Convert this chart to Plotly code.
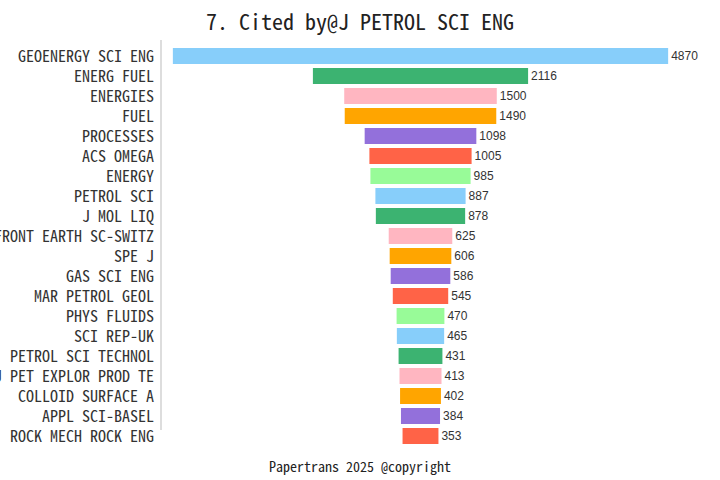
import plotly.graph_objects as go

journals = ["GEOENERGY SCI ENG", "ENERG FUEL", "ENERGIES", "FUEL", "PROCESSES",
            "ACS OMEGA", "ENERGY", "PETROL SCI", "J MOL LIQ", "FRONT EARTH SC-SWITZ",
            "SPE J", "GAS SCI ENG", "MAR PETROL GEOL", "PHYS FLUIDS", "SCI REP-UK",
            "PETROL SCI TECHNOL", "J PET EXPLOR PROD TE", "COLLOID SURFACE A",
            "APPL SCI-BASEL", "ROCK MECH ROCK ENG"]
counts = [4870, 2116, 1500, 1490, 1098, 1005, 985, 887, 878, 625,
          606, 586, 545, 470, 465, 431, 413, 402, 384, 353]
palette = ["#87CEFA", "#3CB371", "#FFB6C1", "#FFA500", "#9370DB", "#FF6347", "#98FB98"]

colors = [palette[i % len(palette)] for i in range(len(counts))]
bases = [-c / 2 for c in counts]

MONO = "Noto Sans Mono CJK SC, Liberation Mono, DejaVu Sans Mono, monospace"

fig = go.Figure(go.Bar(
    y=journals, x=counts, base=bases, orientation="h",
    marker=dict(color=colors, line=dict(width=0)),
    text=[str(c) for c in counts], textposition="outside",
    textfont=dict(family="Liberation Sans, Arial, sans-serif", size=12, color="#333333"),
    cliponaxis=False, hoverinfo="skip",
))

W, H = 720, 480
L, R, T, B = 161, 40, 46, 34
half = (420.5 - L) / 0.1017

fig.update_layout(
    width=W, height=H,
    margin=dict(l=L, r=R, t=T, b=B, autoexpand=False),
    plot_bgcolor="white", paper_bgcolor="white",
    bargap=0.2, showlegend=False,
    title=dict(text="7. Cited by@J PETROL SCI ENG", x=0.5, xanchor="center",
               y=1 - 22 / H, yanchor="middle", yref="container",
               font=dict(family=MONO, size=22, color="#222222")),
    xaxis=dict(range=[-half, half], visible=False, fixedrange=True),
    yaxis=dict(autorange="reversed", showline=False, showgrid=False, zeroline=False,
               ticks="", ticklabelstandoff=6, automargin=False, fixedrange=True,
               tickfont=dict(family=MONO, size=16, color="#333333")),
    annotations=[dict(text="Papertrans 2025 @copyright", xref="paper", yref="paper",
                      x=(360 - L) / (W - L - R), y=(H - B - 466) / (H - T - B),
                      xanchor="center", yanchor="middle", showarrow=False,
                      font=dict(family=MONO, size=14, color="#222222"))],
    shapes=[dict(type="line", xref="paper", yref="paper",
                 x0=0, x1=0, y0=(H - B - 40) / (H - T - B), y1=(H - B - 430) / (H - T - B),
                 line=dict(color="#dddddd", width=2))],
)

fig.write_html("out.html", config={"displayModeBar": False},
               post_script="document.body.style.margin='0';")
